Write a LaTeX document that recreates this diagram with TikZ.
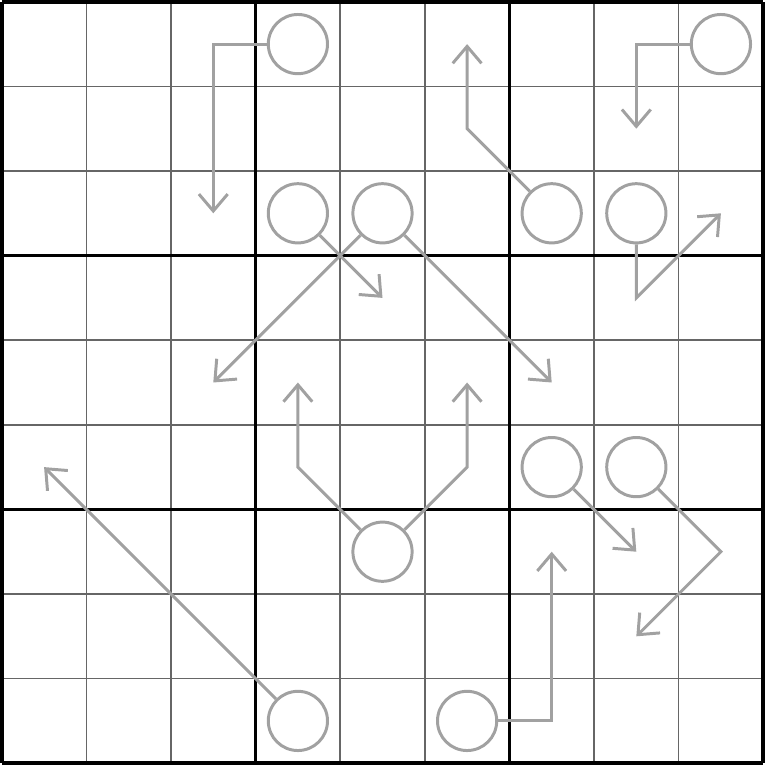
\documentclass[tikz,border=0pt]{standalone}
\usetikzlibrary{arrows.meta}
\definecolor{gridgray}{gray}{0.4}
\definecolor{markgray}{gray}{0.63}
\tikzset{
	dot/.style={circle, draw=markgray, fill=white, line width=1pt, minimum size=0.7cm, inner sep=0pt},
	arr/.style={draw=markgray, line width=1pt, -{Straight Barb[length=0.2cm, width=0.34cm]}},
}
\begin{document}
\begin{tikzpicture}
		\pgfmathsetmacro{\edge}{0.021}
		\useasboundingbox (-\edge,\edge) rectangle (9+\edge,-9-\edge);
		\draw[gridgray, line width=0.55pt] (0,0) grid (9,-9);
		\draw[black, line width=1.2pt] (0,0) grid[step=3] (9,-9);

		\node[dot] (c30) at (3.5,-0.5) {};
		\node[dot] (c80) at (8.5,-0.5) {};
		\node[dot] (c32) at (3.5,-2.5) {};
		\node[dot] (c42) at (4.5,-2.5) {};
		\node[dot] (c62) at (6.5,-2.5) {};
		\node[dot] (c72) at (7.5,-2.5) {};
		\node[dot] (c65) at (6.5,-5.5) {};
		\node[dot] (c75) at (7.5,-5.5) {};
		\node[dot] (c46) at (4.5,-6.5) {};
		\node[dot] (c38) at (3.5,-8.5) {};
		\node[dot] (c58) at (5.5,-8.5) {};

		\coordinate (b20) at (2.5,-0.5);
		\coordinate (t22) at (2.5,-2.5);
		\coordinate (b70) at (7.5,-0.5);
		\coordinate (t71) at (7.5,-1.5);
		\coordinate (b51) at (5.5,-1.5);
		\coordinate (t50) at (5.5,-0.5);
		\coordinate (b73) at (7.5,-3.5);
		\coordinate (t82) at (8.5,-2.5);
		\coordinate (t43) at (4.5,-3.5);
		\coordinate (t24) at (2.5,-4.5);
		\coordinate (t64) at (6.5,-4.5);
		\coordinate (b35) at (3.5,-5.5);
		\coordinate (t34) at (3.5,-4.5);
		\coordinate (b55) at (5.5,-5.5);
		\coordinate (t54) at (5.5,-4.5);
		\coordinate (t76) at (7.5,-6.5);
		\coordinate (b86) at (8.5,-6.5);
		\coordinate (t77) at (7.5,-7.5);
		\coordinate (t05) at (0.5,-5.5);
		\coordinate (b68) at (6.5,-8.5);
		\coordinate (t66) at (6.5,-6.5);

		\draw[arr] (c30) -- (b20) -- (t22);
		\draw[arr] (c80) -- (b70) -- (t71);
		\draw[arr] (c62) -- (b51) -- (t50);
		\draw[arr] (c72) -- (b73) -- (t82);
		\draw[arr] (c32) -- (t43);
		\draw[arr] (c42) -- (t24);
		\draw[arr] (c42) -- (t64);
		\draw[arr] (c46) -- (b35) -- (t34);
		\draw[arr] (c46) -- (b55) -- (t54);
		\draw[arr] (c65) -- (t76);
		\draw[arr] (c75) -- (b86) -- (t77);
		\draw[arr] (c38) -- (t05);
		\draw[arr] (c58) -- (b68) -- (t66);
	\end{tikzpicture}
\end{document}
